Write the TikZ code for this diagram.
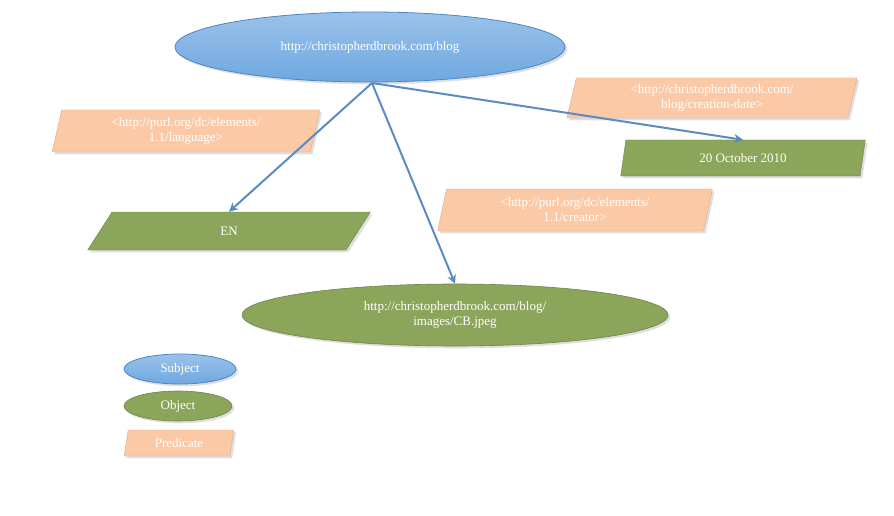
\documentclass[tikz,border=0pt]{standalone}
\usepackage{fontspec}
\setmainfont{Liberation Serif}
\usetikzlibrary{shapes.geometric,arrows.meta,shadows}
\definecolor{subj}{HTML}{6FA8E0}
\definecolor{subjd}{HTML}{4A86C8}
\definecolor{obj}{HTML}{8BA55A}
\definecolor{pred}{HTML}{FCC9A6}
\definecolor{arr}{HTML}{5B8BC3}
\tikzset{
 subjnode/.style={ellipse,draw=subjd,line width=0.8pt,top color=subj!70!white,bottom color=subj,text=white,inner sep=0pt,font=\fontsize{13}{15}\selectfont,drop shadow={opacity=0.25}},
 objnode/.style={ellipse,draw=obj!80!black,line width=0.6pt,fill=obj,text=white,inner sep=0pt,font=\fontsize{13}{15}\selectfont,align=center,drop shadow={opacity=0.25}},
 para/.style={trapezium,trapezium left angle=78,trapezium right angle=102,trapezium stretches=true,inner sep=0pt,text=white,align=center,font=\fontsize{13}{15}\selectfont,drop shadow={opacity=0.25}},
 prednode/.style={para,fill=pred,draw=pred!85!black,line width=0.4pt},
 objbox/.style={para,fill=obj,draw=obj!80!black,line width=0.4pt},
 link/.style={draw=arr,line width=2pt,-{Stealth[length=9pt,width=9pt]}}
}
\begin{document}
\begin{tikzpicture}[x=1pt,y=-1pt]
\useasboundingbox (0,0) rectangle (894,516);
\node[subjnode,minimum width=390,minimum height=70] (s) at (370,47) {http://christopherdbrook.com/blog};
\node[prednode,minimum width=268,minimum height=42] (p1) at (186,131) {<http://purl.org/dc/elements/\\1.1/language>};
\node[prednode,minimum width=291,minimum height=40] (p2) at (712,98) {<http://christopherdbrook.com/\\blog/creation-date>};
\node[prednode,minimum width=275,minimum height=42] (p3) at (575,210) {<http://purl.org/dc/elements/\\1.1/creator>};
\node[objbox,minimum width=246,minimum height=36] (o1) at (743,158) {20 October 2010};
\node[objbox,minimum width=283,minimum height=38] (o2) at (229,231) {EN};
\node[objnode,minimum width=426,minimum height=62] (o3) at (455,315) {http://christopherdbrook.com/blog/\\images/CB.jpeg};
\coordinate (src) at (372,83);
\draw[link] (src) -- (o2.north);
\draw[link] (src) -- (o3.north);
\draw[link] (src) -- (o1.north);
\node[subjnode,minimum width=112,minimum height=30] (ls) at (180,369) {Subject};
\node[objnode,minimum width=108,minimum height=30] (lo) at (178,406) {Object};
\node[prednode,minimum width=110,minimum height=26] (lp) at (179,443) {Predicate};
\end{tikzpicture}
\end{document}
